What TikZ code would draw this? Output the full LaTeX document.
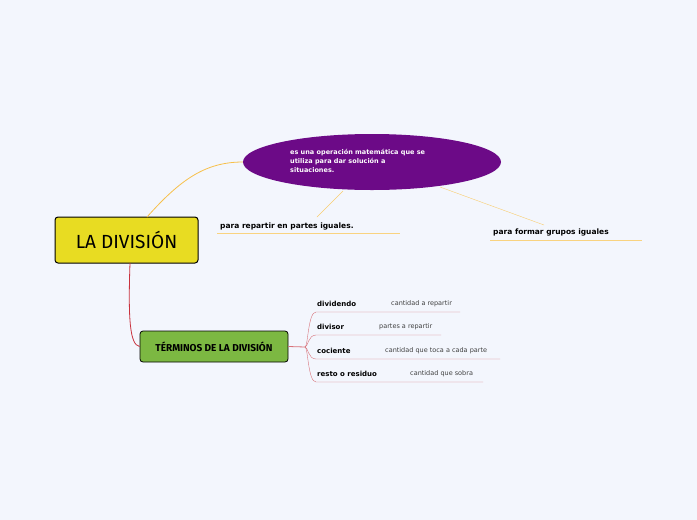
\documentclass[tikz,border=0pt]{standalone}
\usepackage{fontspec}
\setmainfont{DejaVu Sans}
\newfontfamily\hand{Fira Sans}
\usetikzlibrary{shapes.geometric}
\definecolor{bg}{HTML}{F3F6FD}
\definecolor{ylw}{HTML}{E8DC22}
\definecolor{prp}{HTML}{6C0A87}
\definecolor{grn}{HTML}{7CB842}
\definecolor{org}{HTML}{F7C04A}
\definecolor{rd}{HTML}{C8323E}
\definecolor{pk}{HTML}{D8727A}
\tikzset{
 lbl/.style={anchor=west,inner sep=1pt,font=\fontsize{7}{8}\selectfont\bfseries},
 val/.style={anchor=west,inner sep=1pt,font=\fontsize{6.5}{8}\selectfont,text=black!75},
 sub/.style={anchor=west,inner sep=1pt,font=\fontsize{7.5}{9}\selectfont\bfseries},
}
\begin{document}
\begin{tikzpicture}[x=1pt,y=-1pt]
\fill[bg] (0,0) rectangle (697,520);
\useasboundingbox (0,0) rectangle (697,520);
% main
\node[draw=black,line width=1pt,fill=ylw,rounded corners=3pt,minimum width=143pt,minimum height=46pt,font=\hand\fontsize{19}{20}\selectfont] (main) at (126.5,240) {LA DIVISIÓN};
\node[ellipse,fill=prp,minimum width=258pt,minimum height=56pt] (ell) at (372,162) {};
\node[anchor=north west,text=white,align=left,inner sep=0pt,font=\fontsize{6.5}{9}\selectfont\bfseries] (et) at (290,149) {es una operación matemática que se\\utiliza para dar solución a\\situaciones.};
\draw[org,thick] (147,217) .. controls (180,180) and (205,162) .. (ell.west);
% subs
\node[sub] (r) at (219,226) {para repartir en partes iguales.};
\draw[org!70] (217,233) -- (400,233);
\draw[org!80] (343,191) -- (317,217);
\node[sub] (f) at (492,232) {para formar grupos iguales};
\draw[org!70] (490,240) -- (642,240);
\draw[org!80] (440,187) -- (544,225);
% green
\node[draw=black,line width=0.8pt,fill=grn,rounded corners=3pt,minimum width=148pt,minimum height=31pt,font=\hand\bfseries\fontsize{10}{12}\selectfont] (t) at (214,346.5) {TÉRMINOS DE LA DIVISIÓN};
\draw[rd,thick] (130,263) .. controls (128,320) and (130,345) .. (t.west);
\coordinate (h) at (305,347);
\draw[pk,thick] (t.east) -- (h);
\foreach \y/\a/\b/\e/\bx in {304/dividendo/cantidad a repartir/460/390, 327/divisor/partes a repartir/441/378, 351/cociente/cantidad que toca a cada parte/500/384, 374/resto o residuo/cantidad que sobra/483/409}{
 \draw[pk] (h) .. controls (308,347) and (308,\y+8) .. (316,\y+8) -- (\e,\y+8);
 \node[lbl] at (316,\y) {\a};
 \node[val] at (\bx,\y) {\b};
}
\end{tikzpicture}
\end{document}
